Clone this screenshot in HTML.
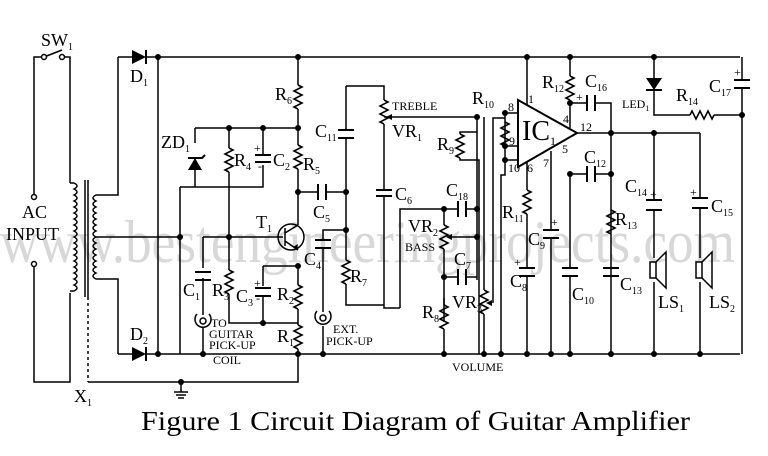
<!DOCTYPE html>
<html><head><meta charset="utf-8"><style>
html,body{margin:0;padding:0;background:#fff;}
svg{display:block;font-family:"Liberation Serif",serif;}
</style></head><body>
<svg width="768" height="456" viewBox="0 0 768 456" xmlns="http://www.w3.org/2000/svg">
<defs>
<g id="rv"><path d="M0 0 l4 2 l-8 4 l8 4 l-8 4 l8 4 l-8 4 l4 2" fill="none" stroke="#000" stroke-width="1.6"/></g>
<g id="rh"><path d="M0 0 l2 -4 l4 8 l4 -8 l4 8 l4 -8 l4 8 l2 -4" fill="none" stroke="#000" stroke-width="1.6"/></g>
</defs>
<text x="0" y="262" font-size="60" fill="#d8d8d8" textLength="735" lengthAdjust="spacingAndGlyphs">www.bestengineeringprojects.com</text>
<g stroke="#000" stroke-width="1.5" fill="none">
<path d="M34 195 V57 H44 M64 57 H70 V183"/>
<path d="M44 57 L62 50"/>
<circle cx="44" cy="57" r="2.5" fill="#fff"/><circle cx="62" cy="57" r="2.5" fill="#fff"/>
<circle cx="34" cy="197" r="2.5" fill="#fff"/><circle cx="34" cy="264" r="2.5" fill="#fff"/>
<path d="M34 267 V382 H70 V293"/>
<path d="M70 183 H74 q6 3 0 6 q6 3 0 6 q6 3 0 6 q6 3 0 6 q6 3 0 6 q6 3 0 6 q6 3 0 6 q6 3 0 6 q6 3 0 6 q6 3 0 6 q6 3 0 6 q6 3 0 6 q6 3 0 6 q6 3 0 6 q6 3 0 6 q6 3 0 6 q6 3 0 6 q6 3 0 6 H70"/>
<path d="M85 180 V297 M88 180 V297"/>
<path d="M88 297 V382" stroke-dasharray="3,3"/>
<path d="M118 57 V195 H96 q-6 3 0 6 q-6 3 0 6 q-6 3 0 6 q-6 3 0 6 q-6 3 0 6 q-6 3 0 6 q-6 3 0 6 q-6 3 0 6 q-6 3 0 6 q-6 3 0 6 q-6 3 0 6 q-6 3 0 6 q-6 3 0 6 q-6 3 0 6 H118 V354"/>
<path d="M96 237 H180"/>
<path d="M118 57 H132 M146 57 H740 M118 354 H132 M146 354 H740"/>
<path d="M158 57 V354"/>
<path d="M88 382 H298 V354"/>
<path d="M181 382 V392 M174 392 H188 M176 395 H186 M178 398 H184"/>
<path d="M298 57 V85 M298 109 V145 M298 169 V225"/>
<path d="M195 128 H298 M195 128 V143 M195 158 V187 M180 187 H263 V165 M263 128 V155 M180 187 V354"/>
<path d="M229 128 V148 M229 172 V270 M229 294 V323 H298 M298 266 V285 M298 309 V325 M298 349 V354"/>
<path d="M263 266 H298 M263 266 V286 M263 296 V323"/>
<path d="M203 237 H283 M203 237 V268 M203 278 V315 M203 327 V354"/>
<circle cx="291" cy="237" r="13"/>
<path d="M285 228 V246 M285 233 L298 225 M285 241 L298 250"/>
<path d="M298 192 H318 M326 192 H346 M346 86 V130 M346 138 V260 M346 284 V305 H384 M346 86 H384 V100 M384 124 V190 M384 196 V308 H400"/>
<path d="M346 230 H323 V240 M323 248 V312 M323 326 V354"/>
<path d="M400 308 V209 H458 M466 209 H477 M384 117 H477 V280 M444 209 V225 M444 249 V322 M444 322 V298 M444 277 H458 M466 277 H477 M477 237 H450"/>
<path d="M444 298 V305 M444 329 V354"/>
<path d="M477 132 H460 V134 M460 158 V160 H479 V354"/>
<path d="M484 117 V290 M484 314 V354 M493 303 V118 H505"/>
<path d="M501 354 V175 H505 V113 H518 M505 146 H518 M505 160 H518 M505 113 V122 M505 146 V160"/>
<path d="M518 100 L577 133 L518 167 Z" stroke-width="2"/>
<path d="M527 57 V105 M570 57 V76 M570 100 V128 M577 133 H700 M527 162 V190 M527 214 V268 M527 276 V354 M551 151 V230 M551 238 V354 M570 174 V268 M570 276 V354 M570 174 H587 M595 174 H611"/>
<path d="M570 103 H587 M595 103 H611 V354 M611 208 V210"/>
<path d="M654 57 V115 H690 M714 115 H742 M742 57 V80 M742 88 V354"/>
<path d="M654 133 V200 M654 210 V258 M654 282 V354 M700 133 V198 M700 208 V258 M700 282 V354"/>
</g>
<use href="#rv" x="298" y="85"/><use href="#rv" x="298" y="145"/><use href="#rv" x="229" y="148"/><use href="#rv" x="229" y="270"/>
<use href="#rv" x="298" y="285"/><use href="#rv" x="298" y="325"/><use href="#rv" x="346" y="260"/><use href="#rv" x="384" y="100"/>
<use href="#rv" x="460" y="134"/><use href="#rv" x="444" y="225"/><use href="#rv" x="444" y="305"/><use href="#rv" x="484" y="290"/>
<use href="#rv" x="505" y="122"/><use href="#rv" x="527" y="190"/><use href="#rv" x="570" y="76"/><use href="#rv" x="611" y="210"/><use href="#rh" x="690" y="115"/>
<g stroke="#000" stroke-width="2" fill="none">
<path d="M255 155 H271 M255 162 H271"/>
<path d="M195 272 H211 M195 280 H211"/>
<path d="M255 288 H271 M255 296 H271"/>
<path d="M318 184 V200 M326 184 V200"/>
<path d="M338 130 H354 M338 138 H354"/>
<path d="M315 240 H331 M315 248 H331"/>
<path d="M376 190 H392 M376 196 H392"/>
<path d="M458 201 V217 M466 201 V217 M458 269 V285 M466 269 V285"/>
<path d="M519 268 H535 M519 276 H535 M543 230 H559 M543 238 H559 M562 268 H578 M562 276 H578 M603 268 H619 M603 276 H619"/>
<path d="M587 95 V111 M595 95 V111 M587 166 V182 M595 166 V182"/>
<path d="M646 200 H662 M646 210 H662 M692 198 H708 M692 208 H708 M734 80 H750 M734 88 H750"/>
</g>
<g fill="#000">
<path d="M132 50 L146 57 L132 64 Z"/><path d="M146 50 V64" stroke="#000" stroke-width="2"/>
<path d="M132 347 L146 354 L132 361 Z"/><path d="M146 347 V361" stroke="#000" stroke-width="2"/>
<path d="M188 170 L202 170 L195 158 Z"/><path d="M188 158 H202 l3 -3" stroke="#000" stroke-width="2" fill="none"/>
<path d="M646 78 L662 78 L654 90 Z"/><path d="M646 90 H662" stroke="#000" stroke-width="2"/>
<path d="M297 250 l1 -6 l-5 3 Z"/>
<path d="M386 117 l6 -3 v6 Z"/><path d="M446 237 l6 -3 v6 Z"/><path d="M486 303 l6 -3 v6 Z"/>
<circle cx="158" cy="57" r="3"/><circle cx="158" cy="354" r="3"/><circle cx="298" cy="57" r="3"/><circle cx="298" cy="128" r="3"/>
<circle cx="229" cy="128" r="3"/><circle cx="263" cy="128" r="3"/><circle cx="298" cy="192" r="3"/><circle cx="346" cy="192" r="3"/>
<circle cx="180" cy="237" r="3"/><circle cx="229" cy="237" r="3"/><circle cx="298" cy="266" r="3"/><circle cx="263" cy="323" r="3"/>
<circle cx="298" cy="354" r="3"/><circle cx="203" cy="354" r="3"/><circle cx="323" cy="354" r="3"/><circle cx="346" cy="230" r="3"/>
<circle cx="181" cy="382" r="3"/><circle cx="444" cy="209" r="3"/><circle cx="477" cy="209" r="3"/><circle cx="477" cy="237" r="3"/>
<circle cx="444" cy="277" r="3"/><circle cx="477" cy="117" r="3"/><circle cx="444" cy="354" r="3"/><circle cx="484" cy="354" r="3"/>
<circle cx="501" cy="354" r="3"/><circle cx="505" cy="113" r="3"/><circle cx="505" cy="146" r="3"/><circle cx="505" cy="160" r="3"/>
<circle cx="527" cy="57" r="3"/><circle cx="570" cy="57" r="3"/><circle cx="654" cy="57" r="3"/><circle cx="570" cy="103" r="3"/>
<circle cx="611" cy="133" r="3"/><circle cx="654" cy="133" r="3"/><circle cx="570" cy="174" r="3"/><circle cx="611" cy="174" r="3"/>
<circle cx="742" cy="115" r="3"/><circle cx="527" cy="354" r="3"/><circle cx="551" cy="354" r="3"/><circle cx="570" cy="354" r="3"/>
<circle cx="611" cy="354" r="3"/><circle cx="654" cy="354" r="3"/><circle cx="700" cy="354" r="3"/>
</g>
<g stroke="#000" stroke-width="1.5" fill="none">
<circle cx="203" cy="321" r="3"/><path d="M197 314 a8 8 0 1 0 12 0"/>
<circle cx="323" cy="318" r="3"/><path d="M317 311 a8 8 0 1 0 12 0"/>
<rect x="650" y="262" width="6" height="16"/><path d="M656 262 L666 252 V288 L656 278"/>
<rect x="696" y="262" width="6" height="16"/><path d="M702 262 L712 252 V288 L702 278"/>
</g>
<g font-size="18" fill="#000">
<text x="41" y="46">SW<tspan font-size="10" dy="4">1</tspan></text>
<text x="22" y="218">AC</text><text x="6" y="240">INPUT</text>
<text x="130" y="82">D<tspan font-size="10" dy="4">1</tspan></text>
<text x="130" y="340">D<tspan font-size="10" dy="4">2</tspan></text>
<text x="74" y="402">X<tspan font-size="10" dy="4">1</tspan></text>
<text x="161" y="148">ZD<tspan font-size="10" dy="4">1</tspan></text>
<text x="275" y="100">R<tspan font-size="10" dy="4">6</tspan></text>
<text x="234" y="166">R<tspan font-size="10" dy="4">4</tspan></text>
<text x="273" y="166">C<tspan font-size="10" dy="4">2</tspan></text>
<text x="303" y="170">R<tspan font-size="10" dy="4">5</tspan></text>
<text x="313" y="218">C<tspan font-size="10" dy="4">5</tspan></text>
<text x="256" y="228">T<tspan font-size="10" dy="4">1</tspan></text>
<text x="304" y="265">C<tspan font-size="10" dy="4">4</tspan></text>
<text x="183" y="296">C<tspan font-size="10" dy="4">1</tspan></text>
<text x="212" y="296">R<tspan font-size="10" dy="4">3</tspan></text>
<text x="236" y="302">C<tspan font-size="10" dy="4">3</tspan></text>
<text x="277" y="300">R<tspan font-size="10" dy="4">2</tspan></text>
<text x="277" y="342">R<tspan font-size="10" dy="4">1</tspan></text>
<text x="315" y="137">C<tspan font-size="10" dy="4">11</tspan></text>
<text x="350" y="282">R<tspan font-size="10" dy="4">7</tspan></text>
<text x="392" y="137">VR<tspan font-size="10" dy="4">1</tspan></text>
<text x="395" y="200">C<tspan font-size="10" dy="4">6</tspan></text>
<text x="437" y="150">R<tspan font-size="10" dy="4">9</tspan></text>
<text x="446" y="196">C<tspan font-size="10" dy="4">18</tspan></text>
<text x="408" y="232">VR<tspan font-size="10" dy="4">2</tspan></text>
<text x="454" y="265">C<tspan font-size="10" dy="4">7</tspan></text>
<text x="422" y="318">R<tspan font-size="10" dy="4">8</tspan></text>
<text x="452" y="308">VR<tspan font-size="10" dy="4">3</tspan></text>
<text x="472" y="104">R<tspan font-size="10" dy="4">10</tspan></text>
<text x="502" y="218">R<tspan font-size="10" dy="4">11</tspan></text>
<text x="510" y="287">C<tspan font-size="10" dy="4">8</tspan></text>
<text x="528" y="245">C<tspan font-size="10" dy="4">9</tspan></text>
<text x="572" y="300">C<tspan font-size="10" dy="4">10</tspan></text>
<text x="542" y="88">R<tspan font-size="10" dy="4">12</tspan></text>
<text x="585" y="87">C<tspan font-size="10" dy="4">16</tspan></text>
<text x="584" y="163">C<tspan font-size="10" dy="4">12</tspan></text>
<text x="615" y="225">R<tspan font-size="10" dy="4">13</tspan></text>
<text x="620" y="290">C<tspan font-size="10" dy="4">13</tspan></text>
<text x="625" y="192">C<tspan font-size="10" dy="4">14</tspan></text>
<text x="711" y="212">C<tspan font-size="10" dy="4">15</tspan></text>
<text x="676" y="101">R<tspan font-size="10" dy="4">14</tspan></text>
<text x="709" y="92">C<tspan font-size="10" dy="4">17</tspan></text>
<text x="658" y="308">LS<tspan font-size="10" dy="4">1</tspan></text>
<text x="709" y="308">LS<tspan font-size="10" dy="4">2</tspan></text>
<text x="522" y="140" font-size="28">IC<tspan font-size="12" dy="5">1</tspan></text>
</g>
<g font-size="12" fill="#000">
<text x="622" y="108">LED<tspan font-size="8" dy="3">1</tspan></text>
<text x="392" y="110">TREBLE</text><text x="405" y="251">BASS</text>
<text x="452" y="371">VOLUME</text>
<text x="211" y="327">TO</text><text x="209" y="338">GUITAR</text><text x="209" y="349">PICK-UP</text><text x="213" y="364">COIL</text>
<text x="333" y="333">EXT.</text><text x="326" y="345">PICK-UP</text>
<text x="528" y="103">1</text><text x="508" y="111">8</text><text x="509" y="145">9</text><text x="508" y="172">10</text>
<text x="563" y="123">4</text><text x="580" y="131">12</text><text x="562" y="153">5</text><text x="527" y="172">6</text><text x="543" y="167">7</text>
<text x="254" y="152">+</text><text x="258" y="170">-</text><text x="254" y="287">+</text><text x="256" y="302">-</text>
<text x="514" y="266">+</text><text x="551" y="226">+</text><text x="576" y="101">+</text><text x="650" y="198">+</text><text x="690" y="196">+</text><text x="734" y="76">+</text>
</g>
<text x="141" y="430" font-size="27" fill="#000" textLength="549" lengthAdjust="spacingAndGlyphs">Figure 1 Circuit Diagram of Guitar Amplifier</text>
</svg>
</body></html>
